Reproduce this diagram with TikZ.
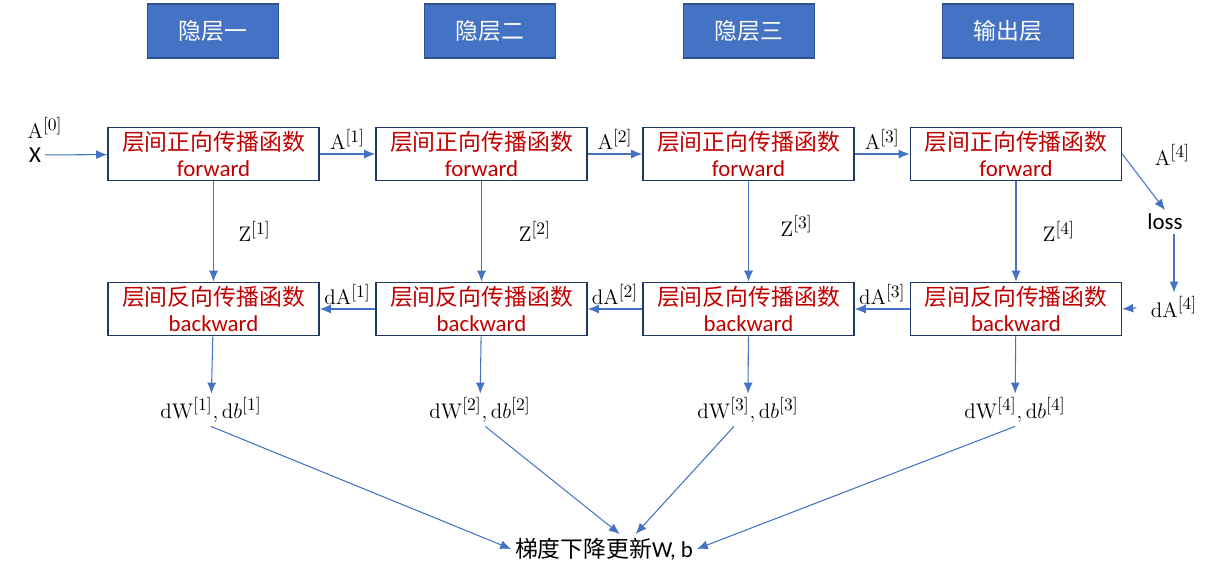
\documentclass[tikz,border=0pt]{standalone}
\usepackage[no-math]{fontspec}
\setmainfont{Carlito}
\newfontfamily\cjk{Noto Sans CJK SC}
\DeclareMathSizes{13}{13}{10}{7}
\usetikzlibrary{arrows.meta}
\definecolor{hdrblue}{HTML}{4472C4}
\definecolor{hdrline}{HTML}{2F528F}
\definecolor{boxline}{HTML}{1F3864}
\definecolor{fnred}{HTML}{C00000}

\begin{document}
\begin{tikzpicture}[x=0.02cm, y=-0.02cm,
    layer/.style={rectangle, draw=hdrline, fill=hdrblue, line width=0.8pt, minimum width=2.62cm, minimum height=1.08cm, text=white, font=\cjk\fontsize{13}{15}\selectfont},
    fn/.style={rectangle, draw=boxline, line width=0.9pt, minimum width=4.22cm, minimum height=1.06cm, inner sep=0pt, align=center, text=fnred, font=\fontsize{13}{14.5}\selectfont},
    lbl/.style={font=\fontsize{13}{15}\selectfont, inner sep=2pt},
    arrow/.style={-{Latex[length=2.2mm,width=1.8mm]}, draw=hdrblue, line width=0.6pt}
]
\useasboundingbox (0,0) rectangle (1205,572);

% layer titles
\node[layer] (h1) at (213,31) {隐层一};
\node[layer] (h2) at (490,31) {隐层二};
\node[layer] (h3) at (749,31) {隐层三};
\node[layer] (h4) at (1008,31) {输出层};

% forward / backward functions
\node[fn] (f1) at (213.5,154) {{\cjk 层间正向传播函数}\\forward};
\node[fn] (f2) at (481.5,154) {{\cjk 层间正向传播函数}\\forward};
\node[fn] (f3) at (748.5,154) {{\cjk 层间正向传播函数}\\forward};
\node[fn] (f4) at (1016,154) {{\cjk 层间正向传播函数}\\forward};
\node[fn] (b1) at (213.5,309) {{\cjk 层间反向传播函数}\\backward};
\node[fn] (b2) at (481.5,309) {{\cjk 层间反向传播函数}\\backward};
\node[fn] (b3) at (748.5,309) {{\cjk 层间反向传播函数}\\backward};
\node[fn] (b4) at (1016,309) {{\cjk 层间反向传播函数}\\backward};

% inputs and loss
\node[lbl] (a0) at (45,128) {$\mathrm{A}^{[0]}$};
\node[lbl] (x) at (35,155) {X};
\node[lbl] (loss) at (1165,222) {loss};
\node[lbl] (da4) at (1174,307) {$\mathrm{dA}^{[4]}$};

% gradients
\node[lbl] (dw1) at (211,410) {$\mathrm{dW}^{[1]},\mathrm{d}b^{[1]}$};
\node[lbl] (dw2) at (480,410) {$\mathrm{dW}^{[2]},\mathrm{d}b^{[2]}$};
\node[lbl] (dw3) at (748,410) {$\mathrm{dW}^{[3]},\mathrm{d}b^{[3]}$};
\node[lbl] (dw4) at (1015,410) {$\mathrm{dW}^{[4]},\mathrm{d}b^{[4]}$};
\node[lbl] (grad) at (604,549) {{\cjk 梯度下降更新}W, b};

% forward pass
\draw[arrow] (x) -- (f1);
\draw[arrow] (f1) -- node[lbl, above] {$\mathrm{A}^{[1]}$} (f2);
\draw[arrow] (f2) -- node[lbl, above] {$\mathrm{A}^{[2]}$} (f3);
\draw[arrow] (f3) -- node[lbl, above] {$\mathrm{A}^{[3]}$} (f4);
\draw[arrow] (f4.east) -- node[lbl, pos=0.3, anchor=west, xshift=9pt, yshift=9pt] {$\mathrm{A}^{[4]}$} (loss.north);

% caches
\draw[arrow] (f1) -- node[lbl, right=12pt] {$\mathrm{Z}^{[1]}$} (b1);
\draw[arrow] (f2) -- node[lbl, right=19pt] {$\mathrm{Z}^{[2]}$} (b2);
\draw[arrow] (f3) -- node[lbl, right=16pt, yshift=3pt] {$\mathrm{Z}^{[3]}$} (b3);
\draw[arrow] (f4) -- node[lbl, right=13pt] {$\mathrm{Z}^{[4]}$} (b4);

% backward pass
\draw[arrow] (loss.south -| da4.north) -- (da4.north);
\draw[arrow, shorten <=6pt] (da4.west) -- (b4.east);
\draw[arrow] (b4) -- node[lbl, above] {$\mathrm{dA}^{[3]}$} (b3);
\draw[arrow] (b3) -- node[lbl, above] {$\mathrm{dA}^{[2]}$} (b2);
\draw[arrow] (b2) -- node[lbl, above] {$\mathrm{dA}^{[1]}$} (b1);

\draw[arrow] (b1) -- (dw1);
\draw[arrow] (b2) -- (dw2);
\draw[arrow] (b3) -- (dw3);
\draw[arrow] (b4) -- (dw4);

% update
\draw[arrow] (dw1.south) -- (grad.west);
\draw[arrow] ([xshift=3]dw2.south) -- ([xshift=9]grad.north);
\draw[arrow] ([xshift=-8]dw3.south) -- ([xshift=18]grad.north);
\draw[arrow] (dw4.south) -- (grad.east);
\end{tikzpicture}
\end{document}
